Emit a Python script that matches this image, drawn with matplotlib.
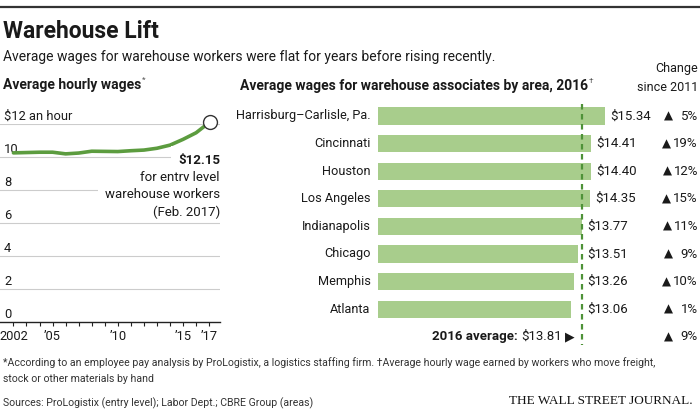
import matplotlib
matplotlib.use('Agg')
import matplotlib.pyplot as plt
from matplotlib import font_manager as fm
from matplotlib.lines import Line2D
import matplotlib.transforms as mtransforms

# ---------------- data ----------------
years = [2002, 2003, 2004, 2005, 2006, 2007, 2008, 2009, 2010, 2011,
         2012, 2013, 2014, 2015, 2016, 2017.1]
wages = [10.25, 10.27, 10.29, 10.29, 10.19, 10.24, 10.35, 10.34, 10.33, 10.38,
         10.42, 10.53, 10.72, 11.07, 11.47, 12.15]
year_ticks = [2002, 2005, 2010, 2015, 2017]
year_tick_labels = ['2002', '\u201905', '\u201910', '\u201915', '\u201917']
y_ticks = [0, 2, 4, 6, 8, 10, 12]
y_tick_labels = ['0', '2', '4', '6', '8', '10', '$12 an hour']

cities = ['Harrisburg\u2013Carlisle, Pa.', 'Cincinnati', 'Houston', 'Los Angeles',
          'Indianapolis', 'Chicago', 'Memphis', 'Atlanta']
city_wages = [15.34, 14.41, 14.40, 14.35, 13.77, 13.51, 13.26, 13.06]
changes = [5, 19, 12, 15, 11, 9, 10, 1]
avg_wage = 13.81
avg_change = 9

# ---------------- fonts ----------------
def has_font(name):
    try:
        fm.findfont(fm.FontProperties(family=name), fallback_to_default=False)
        return True
    except Exception:
        return False

MAIN = 'Roboto' if has_font('Roboto') else 'DejaVu Sans'
NARROW = 'Liberation Sans Narrow' if has_font('Liberation Sans Narrow') else MAIN
FOOT_SIZE = 8.3 if NARROW != MAIN else 7.6
SERIF = 'Liberation Serif' if has_font('Liberation Serif') else 'DejaVu Serif'
plt.rcParams['font.family'] = [MAIN, 'DejaVu Sans']

TXT = '#1a1a1a'
GRID = '#cccccc'
BAR = '#a8cd8c'
LINE = '#5c9c3f'
DASH = '#4e9238'

W, H = 700, 412
def fx(x): return x / W
def fy(y): return 1 - y / H

fig = plt.figure(figsize=(7, 4.12), dpi=100)

# top rule
fig.add_artist(Line2D([0, 1], [fy(7), fy(7)], color='#333333', lw=1.6))

# titles
fig.text(fx(3), fy(38), 'Warehouse Lift', fontsize=16.5, fontweight='bold',
         color=TXT, va='baseline', ha='left')
fig.text(fx(3), fy(61), 'Average wages for warehouse workers were flat for years before rising recently.',
         fontsize=10, color=TXT, va='baseline', ha='left')
h1 = fig.text(fx(3), fy(89), 'Average hourly wages', fontsize=10, fontweight='bold',
              color=TXT, va='baseline', ha='left')
h2 = fig.text(fx(240), fy(90), 'Average wages for warehouse associates by area, 2016',
              fontsize=10, fontweight='bold', color=TXT, va='baseline', ha='left')
fig.text(fx(698), fy(72), 'Change', fontsize=9, color=TXT, va='baseline', ha='right')
fig.text(fx(698), fy(91), 'since 2011', fontsize=9, color=TXT, va='baseline', ha='right')

# ---------------- left line chart ----------------
ax1 = fig.add_axes([fx(0), fy(322), fx(220), (322 - 124) / H])
ax1.set_ylim(0, 12)
ax1.set_xlim(2000.97, 2017.83)
for s in ['top', 'right', 'left']:
    ax1.spines[s].set_visible(False)
ax1.spines['bottom'].set_color('#222222')
ax1.spines['bottom'].set_linewidth(1.0)
ax1.set_yticks([])
for v in y_ticks[1:]:
    ax1.axhline(v, color=GRID, lw=0.8, zorder=1)
trans = mtransforms.blended_transform_factory(ax1.transAxes, ax1.transData)
for v, lbl in zip(y_ticks, y_tick_labels):
    ax1.annotate(lbl, xy=(0, v), xycoords=trans, xytext=(4, 4), textcoords='offset pixels',
                 fontsize=9.3, color=TXT, ha='left', va='baseline')
ax1.set_xticks(year_ticks)
ax1.set_xticklabels(year_tick_labels, fontsize=9.3, color=TXT)
ax1.set_xticks(list(range(2002, 2018)), minor=True)
ax1.tick_params(axis='x', which='both', direction='out', length=3, width=0.8,
                color='#222222', pad=3)
ax1.plot(years, wages, color=LINE, lw=2.6, zorder=3, solid_capstyle='round')
ax1.plot([years[-1]], [wages[-1]], marker='o', ms=10, mfc='white', mec='#333333',
         mew=1.0, zorder=4, clip_on=False)

box = dict(boxstyle='square,pad=0.55', fc='white', ec='none')
fig.text(fx(220), fy(160), '$%.2f' % wages[-1], fontsize=9.5, fontweight='bold',
         color=TXT, ha='right', va='center', bbox=box)
fig.text(fx(220), fy(178), 'for entry level', fontsize=9.5, color=TXT,
         ha='right', va='center', bbox=box)
fig.text(fx(220), fy(195), 'warehouse workers', fontsize=9.5, color=TXT,
         ha='right', va='center', bbox=box)
fig.text(fx(220), fy(212), '(Feb. 2017)', fontsize=9.5, color=TXT,
         ha='right', va='center')

# ---------------- right bar chart ----------------
row0, step = 116, 27.6
ax2 = fig.add_axes([fx(378), fy(350), fx(700 - 378), (350 - 100) / H])
ax2.set_xlim(0, (700 - 378) / 14.8)
ax2.set_ylim((350 - row0) / step, (100 - row0) / step)
ax2.axis('off')
idx = list(range(len(cities)))
ax2.barh(idx, city_wages, height=0.62, color=BAR, zorder=2)
ax2.plot([avg_wage, avg_wage], [-0.45, len(cities) + 0.3], color=DASH, lw=1.6,
         ls=(0, (2.5, 2)), zorder=3)

for i, (c, w) in enumerate(zip(cities, city_wages)):
    ax2.text(-0.5, i, c, fontsize=9.2, color=TXT, ha='right', va='center', clip_on=False)
    ax2.text(max(w, avg_wage) + 0.33, i, '$%.2f' % w, fontsize=9.5, color=TXT,
             ha='left', va='center', clip_on=False)

trans2 = mtransforms.blended_transform_factory(fig.transFigure, ax2.transData)
def change_label(y, v):
    t = ax2.text(fx(698), y, '%d%%' % v, fontsize=9.5, color=TXT, ha='right',
                 va='center', transform=trans2, clip_on=False)
    off = -2 if v >= 10 else -8
    ax2.annotate('\u25b2', xy=(0, 0.5), xycoords=t, xytext=(off, 0),
                 textcoords='offset pixels', fontsize=8.5, color=TXT,
                 ha='right', va='center', family=['DejaVu Sans'])

for i, ch in enumerate(changes):
    change_label(i, ch)
change_label(len(cities), avg_change)

# average row
tri = ax2.text(fx(575), len(cities), '\u25b6', fontsize=9, color=TXT, ha='right',
               va='center', transform=trans2, family=['DejaVu Sans'], clip_on=False)
val = ax2.annotate('$%.2f' % avg_wage, xy=(0, 0.5), xycoords=tri, xytext=(-3, 0),
                   textcoords='offset pixels', fontsize=9.5, color=TXT, ha='right', va='center')
ax2.annotate('2016 average:', xy=(0, 0.5), xycoords=val, xytext=(-4, 0),
             textcoords='offset pixels', fontsize=9.5, fontweight='bold', color=TXT,
             ha='right', va='center')

# superscripts
for t, s in [(h1, '*'), (h2, '\u2020')]:
    fig.add_artist(matplotlib.text.Annotation(s, xy=(1, 1), xycoords=t, xytext=(1, 1),
                   textcoords='offset pixels', fontsize=6, color='#555555',
                   ha='left', va='top'))

# footnotes
fkw = dict(fontsize=FOOT_SIZE, family=[NARROW, 'DejaVu Sans'], color='#333333',
           va='center', ha='left')
fig.text(fx(3), fy(363), '*According to an employee pay analysis by ProLogistix, a logistics staffing firm. '
         '\u2020Average hourly wage earned by workers who move freight,', **fkw)
fig.text(fx(3), fy(379), 'stock or other materials by hand', **fkw)
fig.text(fx(3), fy(403), 'Sources: ProLogistix (entry level); Labor Dept.; CBRE Group (areas)', **fkw)
fig.text(fx(693), fy(401), 'THE WALL STREET JOURNAL.', fontsize=9.5, family=[SERIF],
         color='#111111', va='center', ha='right')

fig.savefig('out.png', dpi=100)
